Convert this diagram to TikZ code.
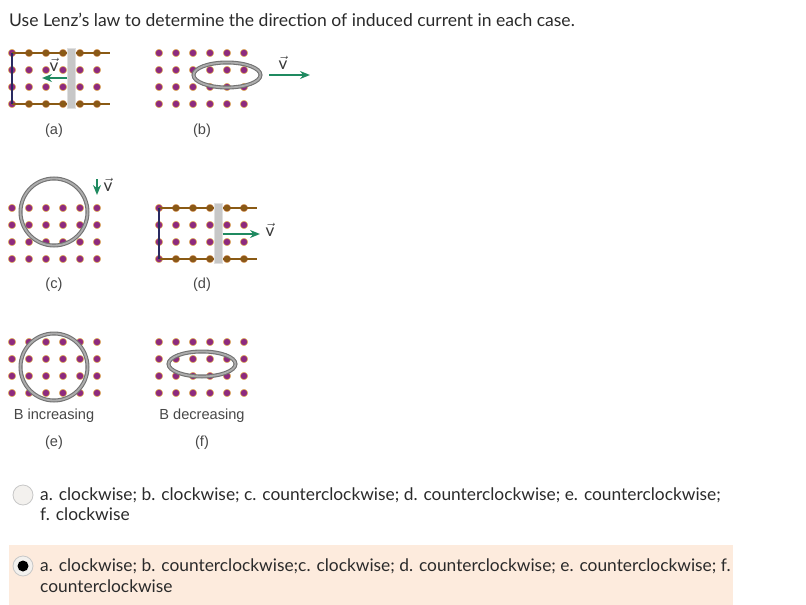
\documentclass[tikz,border=0pt]{standalone}
\usepackage{fontspec}
\setmainfont{Lato}
\newfontfamily\figfont{Liberation Sans}
\definecolor{dotfill}{HTML}{8E2A7E}
\definecolor{dotedge}{HTML}{E0B060}
\definecolor{rail}{HTML}{8A5A14}
\definecolor{wirec}{HTML}{2A2A60}
\definecolor{greenar}{HTML}{1F8A60}
\definecolor{hilite}{HTML}{FDEBDD}
\definecolor{radiofill}{HTML}{F3F1EE}
\definecolor{inkc}{HTML}{2A2A2A}
\tikzset{
  fielddot/.style={circle,fill=dotfill,draw=dotedge,line width=.6pt,minimum size=7.4pt,inner sep=0pt},
  raildot/.style={circle,fill=rail,minimum size=6.4pt,inner sep=0pt},
  railline/.style={draw=rail,line width=2.4pt},
  wireline/.style={draw=wirec,line width=1.1pt},
  barbox/.style={fill=black!22,draw=black!12,line width=.8pt,minimum width=8pt,minimum height=60pt,inner sep=0pt},
  motion/.style={draw=greenar,line width=1.9pt,-{Stealth[length=10pt,width=8pt]}},
  ringout/.style={draw=black!55,line width=4pt},
  ringin/.style={draw=black!32,line width=1.8pt},
  figlabel/.style={font=\figfont\fontsize{14.6}{14.6}\selectfont,text=black!72,inner sep=0pt},
  veclabel/.style={font=\fontsize{17}{17}\selectfont,text=black!78,inner sep=0pt},
  qtext/.style={anchor=base west,inner sep=0pt,text=inkc,font=\fontsize{17.35}{21}\selectfont},
  radiobtn/.style={circle,draw=black!22,fill=radiofill,line width=.8pt,minimum size=20pt,inner sep=0pt},
  radiodot/.style={circle,fill=black,minimum size=11pt,inner sep=0pt}
}
\usetikzlibrary{arrows.meta}
\newcommand{\dotgrid}[2]{% origin x,y
  \foreach \i in {0,...,5}{\foreach \j in {0,...,3}{
    \node[fielddot] at ({#1+17*\i},{#2+17*\j}) {};}}}
\newcommand{\ringshape}[4]{% cx cy rx ry
  \draw[ringout] (#1,#2) ellipse [x radius=#3,y radius=#4];
  \draw[ringin] (#1,#2) ellipse [x radius=#3,y radius=#4];}
\newcommand{\vecv}{$\vec{\mathrm{v}}$}
\begin{document}
\begin{tikzpicture}[x=1pt,y=-1pt]
\useasboundingbox (0,0) rectangle (806,605);
\node[qtext,font=\fontsize{17.55}{21}\selectfont] (title) at (9,26) {Use Lenz’s law to determine the direction of induced current in each case.};
% (a)
\dotgrid{12}{53}
\coordinate (a1) at (12,53); \coordinate (a2) at (110,53); \coordinate (a3) at (12,104); \coordinate (a4) at (110,104);
\draw[railline] (a1)--(a2); \draw[railline] (a3)--(a4);
\foreach \i in {1,...,5}{\node[raildot] at ({12+17*\i},53) {}; \node[raildot] at ({12+17*\i},104) {};}
\draw[wireline] (a1)--(a3);
\node[barbox] (bara) at (71.5,78) {};
\coordinate (vaend) at (42,78);
\draw[motion] (bara.west |- vaend) -- (vaend);
\node[veclabel] (va) at (54,64.5) {\vecv};
\node[figlabel] (la) at (54,130.5) {(a)};
% (b)
\dotgrid{159}{53}
\ringshape{227}{75}{33.5}{12.5}
\coordinate (vb1) at (269,75); \coordinate (vb2) at (310,75);
\draw[motion] (vb1) -- (vb2);
\node[veclabel] (vb) at (283,63) {\vecv};
\node[figlabel] (lb) at (202,130.5) {(b)};
% (c)
\dotgrid{12}{208}
\ringshape{54}{212}{33.5}{33.5}
\coordinate (vc1) at (97,179); \coordinate (vc2) at (97,195);
\draw[motion] (vc1) -- (vc2);
\node[veclabel] (vc) at (108,185) {\vecv};
\node[figlabel] (lc) at (54,285) {(c)};
% (d)
\dotgrid{159}{208}
\coordinate (d1) at (159,208); \coordinate (d2) at (257,208); \coordinate (d3) at (159,259); \coordinate (d4) at (257,259);
\draw[railline] (d1)--(d2); \draw[railline] (d3)--(d4);
\foreach \i in {1,...,5}{\node[raildot] at ({159+17*\i},208) {}; \node[raildot] at ({159+17*\i},259) {};}
\draw[wireline] (d1)--(d3);
\node[barbox] (bard) at (218.5,233) {};
\coordinate (vdend) at (260,234);
\draw[motion] (bard.east |- vdend) -- (vdend);
\node[veclabel] (vd) at (270,230) {\vecv};
\node[figlabel] (ld) at (202,285) {(d)};
% (e)
\dotgrid{12}{342}
\ringshape{54}{367}{33.5}{33.5}
\node[figlabel] (te) at (54,415.5) {B increasing};
\node[figlabel] (le) at (54,443) {(e)};
% (f)
\dotgrid{159}{342}
\ringshape{202}{364}{33.5}{12.5}
\node[figlabel] (tf) at (202,415.5) {B decreasing};
\node[figlabel] (lf) at (202,443) {(f)};
% answers
\node[radiobtn] (r1) at (23,495) {};
\node[qtext] (o1a) at (40,500) {a. clockwise; b. clockwise; c. counterclockwise; d. counterclockwise; e. counterclockwise;};
\node[qtext] (o1b) at (40,520) {f. clockwise};
\fill[hilite] (9,545) rectangle (733,605);
\node[radiobtn] (r2) at (23,566) {};
\node[radiodot] (r2d) at (r2) {};
\node[qtext] (o2a) at (40,571.5) {a. clockwise; b. counterclockwise;c. clockwise; d. counterclockwise; e. counterclockwise; f.};
\node[qtext] (o2b) at (40,592) {counterclockwise};
\end{tikzpicture}
\end{document}
